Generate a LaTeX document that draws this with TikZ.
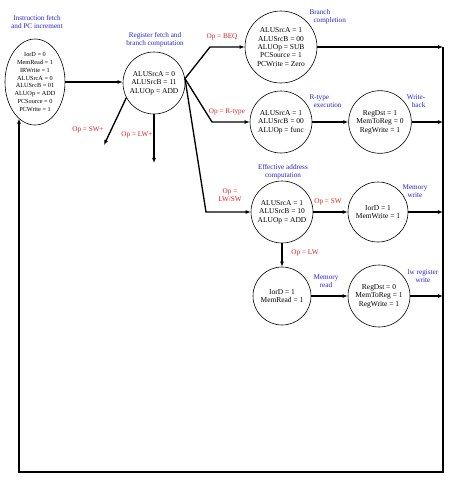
\documentclass[tikz,border=0pt]{standalone}
\usepackage{fontspec}
\setmainfont{Liberation Serif}
\usetikzlibrary{arrows.meta,shapes.geometric}
\definecolor{lblblue}{RGB}{35,35,215}
\definecolor{opred}{RGB}{225,30,30}
\tikzset{every picture/.style={line width=0.75pt}}
\tikzset{
  state/.style={draw, circle, line width=0.45pt, inner sep=0pt, align=center, font=\fontsize{5.6}{6.3}\selectfont},
  stlabel/.style={text=lblblue, align=center, inner sep=0.75pt, font=\fontsize{5.4}{6}\selectfont},
  oplabel/.style={text=opred, align=center, inner sep=0.75pt, font=\fontsize{5.4}{6}\selectfont},
  wire/.style={line width=1pt, -{Latex[length=3.8pt,width=3pt]}},
}

\begin{document}
\begin{tikzpicture}[x=0.75pt,y=0.75pt,yscale=-1,xscale=1]
\useasboundingbox (0,0) rectangle (473,486);

%Shape: Ellipse [fetch]
\node[state, ellipse, minimum width=45pt, minimum height=64.5pt, font=\fontsize{4.7}{5.8}\selectfont] (fetch) at (35,82)
  {IorD = 0\\MemRead = 1\\IRWrite = 1\\ALUSrcA = 0\\ALUSrcB = 01\\ALUOp = ADD\\PCSource = 0\\PCWrite = 1};
%Shape: Circle [regf]
\node[state, minimum size=46.5pt] (regf) at (154,83) {ALUSrcA = 0\\ALUSrcB = 11\\ALUOp = ADD};
%Shape: Circle [branch]
\node[state, minimum size=54pt] (branch) at (281,47) {ALUSrcA = 1\\ALUSrcB = 00\\ALUOp = SUB\\PCSource = 1\\PCWrite = Zero};
%Shape: Circle [rtype]
\node[state, minimum size=46.5pt] (rtype) at (281,122) {ALUSrcA = 1\\ALUSrcB = 00\\ALUOp = func};
%Shape: Circle [wback]
\node[state, minimum size=47pt] (wback) at (380,122) {RegDst = 1\\MemToReg = 0\\RegWrite = 1};
%Shape: Circle [effaddr]
\node[state, minimum size=46.5pt] (effaddr) at (282,212) {ALUSrcA = 1\\ALUSrcB = 10\\ALUOp = ADD};
%Shape: Circle [memwr]
\node[state, minimum size=45pt] (memwr) at (378,212) {IorD = 1\\MemWrite = 1};
%Shape: Circle [memrd]
\node[state, minimum size=43.5pt] (memrd) at (282,296) {IorD = 1\\MemRead = 1};
%Shape: Circle [lwwr]
\node[state, minimum size=46.5pt] (lwwr) at (379,296) {RegDst = 0\\MemToReg = 1\\RegWrite = 1};

%Coordinates for bends and free ends
\coordinate (fork) at (regf.8);
\coordinate (beqturn) at (210,47);
\coordinate (rturn) at (212,122);
\coordinate (lwswturn) at (206,212);
\coordinate (swend) at (104,145);
\coordinate (lwend) at (154,163);
\coordinate (rtop) at (443,47);
\coordinate (rbot) at (443,472);
\coordinate (lbot) at (19,472);

%Straight Lines
\draw[wire] (fetch.east) -- (fetch.east -| regf.west);
\draw[wire] (fork) -- (beqturn) -- (branch.west);
\draw[wire] (fork) -- (rturn) -- (rtype.west);
\draw[wire] (fork) -- (lwswturn) -- (effaddr.west);
\draw[wire] (regf.208) -- (swend);
\draw[wire] (regf.south) -- (lwend);
\draw[wire] (rtype.east) -- (wback.west);
\draw[wire] (effaddr.east) -- (memwr.west);
\draw[wire] (effaddr.south) -- (memrd.north);
\draw[wire] (memrd.east) -- (lwwr.west);
%Return lines
\draw[wire] (branch.east) -- (rtop);
\draw[wire] (wback.east) -- (wback.east -| rtop);
\draw[wire] (memwr.east) -- (memwr.east -| rtop);
\draw[wire] (lwwr.east) -- (lwwr.east -| rtop);
\draw[wire] (rtop) -- (rbot) -- (lbot) -- (lbot |- fetch.246);

% Text Node
\node[stlabel] (fetchlbl) at (37,21.5) {Instruction fetch\\and PC increment};
% Text Node
\node[stlabel] (regflbl) at (155,40) {Register fetch and\\branch computation};
% Text Node
\node[stlabel, align=left, anchor=west] (branchlbl) at (308,17) {Branch\\\hspace*{3pt}completion};
% Text Node
\node[stlabel, align=left, anchor=west] (rtypelbl) at (308,101.5) {R-type\\\hspace*{3pt}execution};
% Text Node
\node[stlabel] (wbacklbl) at (416,101) {Write-\\\hspace*{4pt}back};
% Text Node
\node[stlabel] (effaddrlbl) at (283,172) {Effective address\\computation};
% Text Node
\node[stlabel] (memwrlbl) at (415,191) {Memory\\write};
% Text Node
\node[stlabel] (memrdlbl) at (326,281) {Memory\\read};
% Text Node
\node[stlabel] (lwwrlbl) at (423,276) {lw register\\write};

% Text Node
\node[oplabel] (beqop) at (222,37) {Op = BEQ};
% Text Node
\node[oplabel] (rtypeop) at (227,112) {Op = R-type};
% Text Node
\node[oplabel] (swplusop) at (88,130) {Op = SW+};
% Text Node
\node[oplabel] (lwplusop) at (137,135) {Op = LW+};
% Text Node
\node[oplabel] (lwswop) at (230,195) {Op =\\LW/SW};
% Text Node
\node[oplabel] (swop) at (328,202) {Op = SW};
% Text Node
\node[oplabel] (lwop) at (305,253) {Op = LW};

\end{tikzpicture}
\end{document}
